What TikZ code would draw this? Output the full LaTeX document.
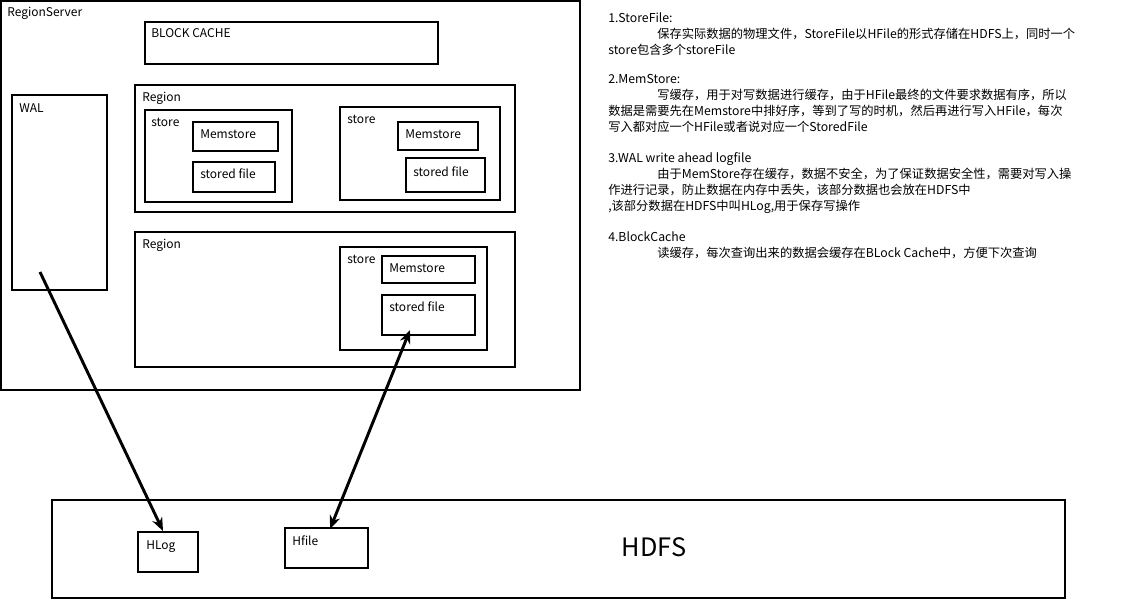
\documentclass[tikz,border=0pt]{standalone}
\usepackage{fontspec}
\setmainfont{Noto Sans CJK SC}
\usetikzlibrary{arrows.meta}
\begin{document}
\begin{tikzpicture}[x=0.75pt,y=-0.75pt,
  bx/.style={draw,line width=0.9pt},
  lb/.style={anchor=north west,inner sep=0pt,font=\fontsize{9}{10}\selectfont},
  tx/.style={anchor=north west,inner sep=0pt,font=\fontsize{9.2}{12}\selectfont,align=left},
  arr/.style={line width=2.2pt,-{Stealth[length=10pt,width=8pt]}}]
\useasboundingbox (0,0) rectangle (1124,601);
\draw[bx] (1,1) rectangle (580,390);
\node[lb] (rs) at (7,7) {RegionServer};
\draw[bx] (145,22) rectangle (438,64);
\node[lb] (bc) at (151,28) {BLOCK CACHE};
\draw[bx] (12,95) rectangle (107,290);
\node[lb] (wal) at (19,103) {WAL};
\coordinate (walp) at (40,272);
% Region 1
\draw[bx] (135,85) rectangle (515,212);
\node[lb] at (142,92) {Region};
\draw[bx] (145,110) rectangle (292,202);
\node[lb] at (151,118) {store};
\draw[bx] (193,122) rectangle (278,151); \node[lb] at (200,129) {Memstore};
\draw[bx] (193,162) rectangle (275,192); \node[lb] at (200,169) {stored file};
\draw[bx] (340,107) rectangle (500,200);
\node[lb] at (347,115) {store};
\draw[bx] (398,122) rectangle (478,150); \node[lb] at (405,129) {Memstore};
\draw[bx] (406,158) rectangle (485,192); \node[lb] at (413,167) {stored file};
% Region 2
\draw[bx] (135,232) rectangle (515,367);
\node[lb] at (142,239) {Region};
\draw[bx] (340,247) rectangle (487,350);
\node[lb] at (347,255) {store};
\draw[bx] (382,256) rectangle (475,283); \node[lb] at (389,263) {Memstore};
\draw[bx] (382,295) rectangle (475,335); \node[lb] at (389,302) {stored file};
\coordinate (sfp) at (410,330);
% HDFS
\draw[bx] (52,500) rectangle (1065,598);
\node[font=\fontsize{19}{21}\selectfont] (hdfs) at (654,547) {HDFS};
\draw[bx] (138,532) rectangle (198,572); \node[lb] at (146,540) {HLog};
\coordinate (hlog) at (163,531);
\draw[bx] (285,528) rectangle (368,568); \node[lb] at (292,536) {Hfile};
\coordinate (hfile) at (330,529);
\draw[arr] (walp) -- (hlog);
\draw[arr,{Stealth[length=10pt,width=8pt]}-{Stealth[length=10pt,width=8pt]}] (hfile) -- (sfp);
% notes
\node[tx] (n1) at (608,12) {1.StoreFile:\\
\hspace*{4em}保存实际数据的物理文件，StoreFile以HFile的形式存储在HDFS上，同时一个\\
store包含多个storeFile};
\node[tx] (n2) at (608,74) {2.MemStore:\\
\hspace*{4em}写缓存，用于对写数据进行缓存，由于HFile最终的文件要求数据有序，所以\\
数据是需要先在Memstore中排好序，等到了写的时机，然后再进行写入HFile，每次\\
写入都对应一个HFile或者说对应一个StoredFile};
\node[tx] (n3) at (608,152) {3.WAL write ahead logfile\\
\hspace*{4em}由于MemStore存在缓存，数据不安全，为了保证数据安全性，需要对写入操\\
作进行记录，防止数据在内存中丢失，该部分数据也会放在HDFS中\\
,该部分数据在HDFS中叫HLog,用于保存写操作};
\node[tx] (n4) at (608,231) {4.BlockCache\\
\hspace*{4em}读缓存，每次查询出来的数据会缓存在BLock Cache中，方便下次查询};
\end{tikzpicture}
\end{document}
